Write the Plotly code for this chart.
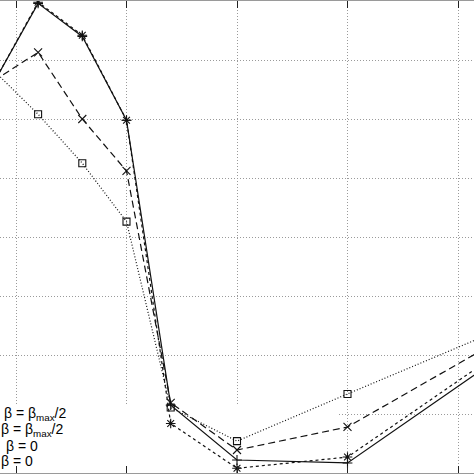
import plotly.graph_objects as go

# ---- data ----
x_vals = [0.8, 1.2, 1.6, 2.0, 2.4, 3.0, 4.0, 6.0]

series_names = ["β = β<sub>max</sub>/2", "β = β<sub>max</sub>/2", "β = 0", "β = 0"]
solid_plus = [6.62, 7.96, 7.40, 5.98, 1.15, 0.22, 0.17, 2.77]
dashed_x = [6.65, 7.13, 6.00, 5.12, 1.19, 0.39, 0.78, 2.92]
shortdash_star = [6.62, 7.98, 7.42, 5.98, 0.84, 0.08, 0.27, 2.85]
dotted_box = [6.82, 6.08, 5.25, 4.26, 1.11, 0.54, 1.34, 2.92]

x_grid = [1, 2, 3, 4, 5]
y_grid = [1, 2, 3, 4, 5, 6, 7]

# ---- styling ----
styles = [
    dict(dash="solid", symbol="cross-thin-open", size=7),
    dict(dash="7px,4px", symbol="x-thin-open", size=8),
    dict(dash="3px,3px", symbol="asterisk-open", size=8),
    dict(dash="1px,2px", symbol="square-open", size=7),
]
values = [solid_plus, dashed_x, shortdash_star, dotted_box]

fig = go.Figure()
for name, ys, st in zip(series_names, values, styles):
    fig.add_trace(go.Scatter(
        x=x_vals, y=ys, name=name, mode="lines+markers",
        line=dict(color="#111111", width=1.2, dash=st["dash"]),
        marker=dict(symbol=st["symbol"], size=st["size"], color="#111111",
                    line=dict(color="#111111", width=1.1)),
        cliponaxis=False, showlegend=False,
    ))

# white key area hiding the grid (between grid and traces)
fig.add_shape(type="rect", xref="x", yref="y", x0=0.5, x1=3.923, y0=-0.5, y1=1.135,
              fillcolor="white", line=dict(width=0), layer="between")

# key texts
key_pos = [(3, 414), (0, 430), (5, 446), (0, 461)]
for (px, py), name in zip(key_pos, series_names):
    fig.add_annotation(text=name, xref="paper", yref="paper",
                       x=(px - 1) / 474, y=(473 - py) / 472,
                       xanchor="left", yanchor="middle", showarrow=False,
                       font=dict(family="Liberation Sans, Arial, sans-serif", size=14, color="black"))

fig.update_xaxes(range=[0.8552, 5.1448], tickvals=x_grid, showticklabels=False,
                 ticks="inside", ticklen=7, tickcolor="#222222", tickwidth=1,
                 showline=True, linecolor="#9a9a9a", linewidth=2, mirror="ticks",
                 showgrid=True, gridcolor="#9a9a9a", gridwidth=1, griddash="1px,2px",
                 zeroline=False)
fig.update_yaxes(range=[0, 8], tickvals=y_grid, showticklabels=False, ticks="",
                 showline=False, showgrid=True, gridcolor="#9a9a9a", gridwidth=1,
                 griddash="1px,2px", zeroline=False)

fig.update_layout(width=474, height=474, margin=dict(l=0, r=0, t=1, b=1),
                  plot_bgcolor="white", paper_bgcolor="white", showlegend=False,
                  hovermode=False,
                  font=dict(family="Liberation Sans, Arial, sans-serif"))

fig.write_html("out.html", config={"displayModeBar": False, "staticPlot": True},
               post_script="document.body.style.margin='0';document.body.style.overflow='hidden';")
